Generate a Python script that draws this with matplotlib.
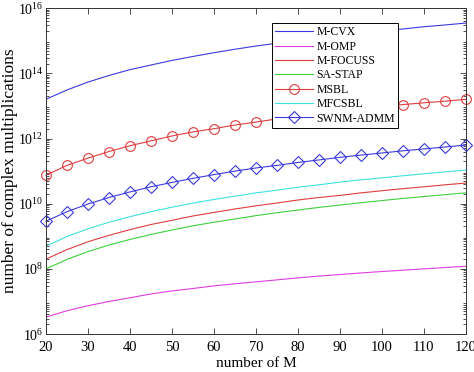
import matplotlib
matplotlib.use("Agg")
import matplotlib.pyplot as plt
from matplotlib.ticker import LogLocator, FixedLocator

# ── data ─────────────────────────────────────────────────────────────────────
M = [20, 25, 30, 35, 40, 45, 50, 55, 60, 65, 70, 75, 80, 85, 90, 95, 100, 105, 110, 115, 120]

m_cvx = [1.6e13, 3.1e13, 5.4e13, 8.6e13, 1.3e14, 1.8e14, 2.5e14, 3.3e14, 4.3e14, 5.5e14, 6.9e14,
         8.4e14, 1.0e15, 1.2e15, 1.45e15, 1.7e15, 2.0e15, 2.3e15, 2.7e15, 3.05e15, 3.5e15]
m_omp = [3.3e6, 5.2e6, 7.4e6, 1.0e7, 1.3e7, 1.7e7, 2.1e7, 2.5e7, 3.0e7, 3.5e7, 4.0e7,
         4.6e7, 5.3e7, 6.0e7, 6.7e7, 7.5e7, 8.3e7, 9.1e7, 1.0e8, 1.1e8, 1.2e8]
m_focuss = [2.0e8, 3.9e8, 6.8e8, 1.07e9, 1.6e9, 2.3e9, 3.1e9, 4.2e9, 5.4e9, 6.9e9, 8.6e9,
            1.05e10, 1.3e10, 1.55e10, 1.8e10, 2.15e10, 2.5e10, 2.9e10, 3.3e10, 3.8e10, 4.3e10]
sa_stap = [1.0e8, 1.95e8, 3.4e8, 5.4e8, 8.0e8, 1.14e9, 1.56e9, 2.1e9, 2.7e9, 3.4e9, 4.3e9,
           5.3e9, 6.4e9, 7.7e9, 9.1e9, 1.07e10, 1.25e10, 1.45e10, 1.66e10, 1.9e10, 2.16e10]
msbl = [7.5e10, 1.5e11, 2.5e11, 4.0e11, 6.0e11, 8.5e11, 1.2e12, 1.6e12, 2.0e12, 2.6e12, 3.2e12,
        4.0e12, 4.8e12, 5.8e12, 6.8e12, 8.0e12, 9.4e12, 1.1e13, 1.25e13, 1.4e13, 1.6e13]
mfcsbl = [5.0e8, 9.8e8, 1.7e9, 2.7e9, 4.0e9, 5.7e9, 7.8e9, 1.04e10, 1.35e10, 1.7e10, 2.15e10,
          2.6e10, 3.2e10, 3.8e10, 4.6e10, 5.4e10, 6.2e10, 7.2e10, 8.3e10, 9.5e10, 1.08e11]
swnm_admm = [2.9e9, 5.7e9, 9.8e9, 1.55e10, 2.3e10, 3.3e10, 4.5e10, 6.0e10, 7.8e10, 1.0e11, 1.25e11,
             1.5e11, 1.85e11, 2.2e11, 2.65e11, 3.1e11, 3.6e11, 4.2e11, 4.8e11, 5.5e11, 6.3e11]

x_ticks = [20, 30, 40, 50, 60, 70, 80, 90, 100, 110, 120]

# ── style ────────────────────────────────────────────────────────────────────
plt.rcParams['font.family'] = ['Liberation Serif', 'DejaVu Serif']
plt.rcParams['mathtext.fontset'] = 'custom'
plt.rcParams['mathtext.rm'] = 'Liberation Serif'

fig = plt.figure(figsize=(4.74, 3.72), dpi=100)
ax = fig.add_axes([0.097, 0.102, 0.886, 0.876])

lw = 0.8
ax.plot(M, m_cvx, color='#3a3ae0', lw=lw, label='M-CVX')
ax.plot(M, m_omp, color='#e03ce0', lw=lw, label='M-OMP')
ax.plot(M, m_focuss, color='#e03c3c', lw=lw, label='M-FOCUSS')
ax.plot(M, sa_stap, color='#3cd23c', lw=lw, label='SA-STAP')
ax.plot(M, msbl, color='#e03c3c', lw=lw, marker='o', ms=7, mfc='none', mew=0.8,
        label='MSBL', clip_on=False)
ax.plot(M, mfcsbl, color='#3ee0e0', lw=lw, label='MFCSBL')
ax.plot(M, swnm_admm, color='#3a3ae0', lw=lw, marker='D', ms=6, mfc='none', mew=0.8,
        label='SWNM-ADMM', clip_on=False)

ax.set_yscale('log')
ax.set_xlim(20, 120)
ax.set_ylim(1e6, 1e16)
ax.xaxis.set_major_locator(FixedLocator(x_ticks))
ax.yaxis.set_major_locator(FixedLocator([1e6, 1e8, 1e10, 1e12, 1e14, 1e16]))
ax.yaxis.set_minor_locator(LogLocator(base=10, subs=range(2, 10), numticks=30))
ax.tick_params(which='both', direction='in', top=True, right=True, labelsize=10.5,
               color='#333333', width=0.6)
ax.tick_params(axis='y', labelsize=10, pad=2)
ax.tick_params(axis='x', pad=5)
ax.tick_params(which='major', length=4)
ax.tick_params(which='minor', length=2)
for s in ax.spines.values():
    s.set_linewidth(0.7)
    s.set_color('#333333')

ax.set_xlabel('number of M', fontsize=11, labelpad=2)
ax.set_ylabel('number of complex multiplications', fontsize=12.5)
ax.yaxis.set_label_coords(-0.067, 0.5)

leg = ax.legend(loc='upper left', bbox_to_anchor=(0.538, 0.955), fontsize=8.5,
                handlelength=3.2, handletextpad=0.25, labelspacing=0.2,
                borderpad=0.3, fancybox=False, framealpha=1, edgecolor='black',
                borderaxespad=0)
leg.get_frame().set_linewidth(0.7)

fig.savefig('out.png', dpi=100)
